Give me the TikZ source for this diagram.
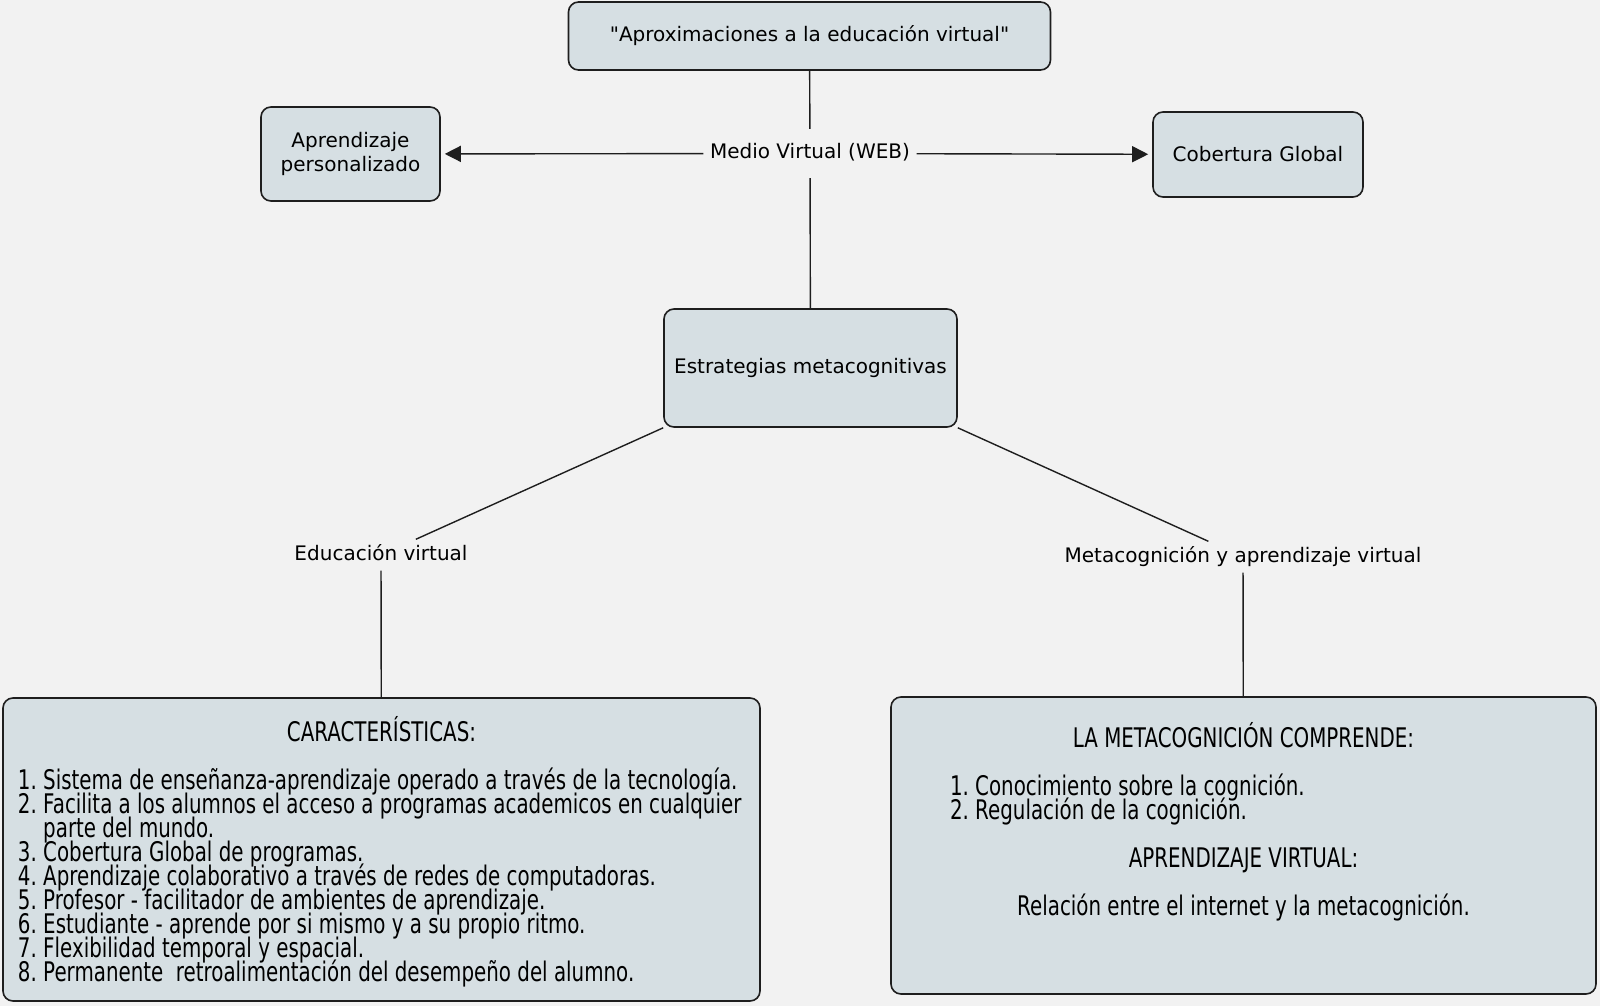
\documentclass[tikz,border=0pt]{standalone}
\usepackage{fontspec}
\setmainfont{DejaVu Sans}[Ligatures=TeXOff]
\newfontfamily\alta[FakeStretch=0.735]{DejaVu Sans}
\usetikzlibrary{arrows.meta}
\definecolor{fondo}{RGB}{242,242,242}
\definecolor{relleno}{RGB}{214,223,227}
\definecolor{borde}{RGB}{30,30,30}
\frenchspacing

\begin{document}
\begin{tikzpicture}[x=0.5pt, y=-0.5pt, >={Triangle[length=8pt,width=8pt]},
	caja/.style={draw=borde, fill=relleno, rounded corners=5pt, line width=0.8pt, inner sep=0pt},
	texto/.style={inner xsep=3pt, inner ysep=2.5pt, text height=7.5pt, text depth=2.5pt},
	linea/.style={draw=borde, line width=0.7pt}]
		\useasboundingbox (0,0) rectangle (1600,1006);
		\fill[fondo] (0,0) rectangle (1600,1006);
		\draw[linea]
		node[caja, minimum width=241pt, minimum height=34pt] at (809.5,36) (tit) {"Aproximaciones a la educación virtual"}
		node[caja, minimum width=89.5pt, minimum height=47pt, align=center] at (350.5,154) (apr) {Aprendizaje\\personalizado}
		node[caja, minimum width=105pt, minimum height=42.5pt] at (1258,154.5) (cob) {Cobertura Global}
		node[texto, inner ysep=7pt] at (810,153.5) (med) {Medio Virtual (WEB)}
		node[caja, minimum width=146.5pt, minimum height=59pt] at (810.5,368) (est) {Estrategias metacognitivas}
		node[texto] at (381,555) (edu) {Educación virtual}
		node[texto] at (1243,557) (met) {Metacognición y aprendizaje virtual}
		node[caja] at (381.5,849.5) (car) {\begin{minipage}[c][151.5pt][t]{378.5pt}
			\alta\fontsize{13.5pt}{12pt}\selectfont\lineskiplimit=-20pt
			\centering\rule{0pt}{21.5pt}CARACTERÍSTICAS:\par\vspace{12pt}
			\raggedright\leftskip=7.5pt
			1. Sistema de enseñanza-aprendizaje operado a través de la tecnología.\par
			2. Facilita a los alumnos el acceso a programas academicos en cualquier\par
			\phantom{2. }parte del mundo.\par
			3. Cobertura Global de programas.\par
			4. Aprendizaje colaborativo a través de redes de computadoras.\par
			5. Profesor - facilitador de ambientes de aprendizaje.\par
			6. Estudiante - aprende por si mismo y a su propio ritmo.\par
			7. Flexibilidad temporal y espacial.\par
			8. Permanente\ \ retroalimentación del desempeño del alumno.\par
		\end{minipage}}
		node[caja] at (1243.5,845.5) (lam) {\begin{minipage}[c][148.5pt][t]{352.5pt}
			\alta\fontsize{13.5pt}{12pt}\selectfont\lineskiplimit=-20pt
			\centering\rule{0pt}{25pt}LA METACOGNICIÓN COMPRENDE:\par\vspace{12pt}
			\raggedright\leftskip=29.5pt
			1. Conocimiento sobre la cognición.\par
			2. Regulación de la cognición.\par\vspace{12pt}
			\centering APRENDIZAJE VIRTUAL:\par\vspace{12pt}
			Relación entre el internet y la metacognición.\par
		\end{minipage}}
		(tit) -- (med)
		(med) -- (est)
		(est.south west) -- (edu)
		(est.south east) -- (met)
		(edu) -- (car)
		(met) -- (lam);
		\draw[linea, ->, shorten >=2pt] (med) -- (apr);
		\draw[linea, ->, shorten >=2pt] (med) -- (cob);
\end{tikzpicture}
\end{document}
